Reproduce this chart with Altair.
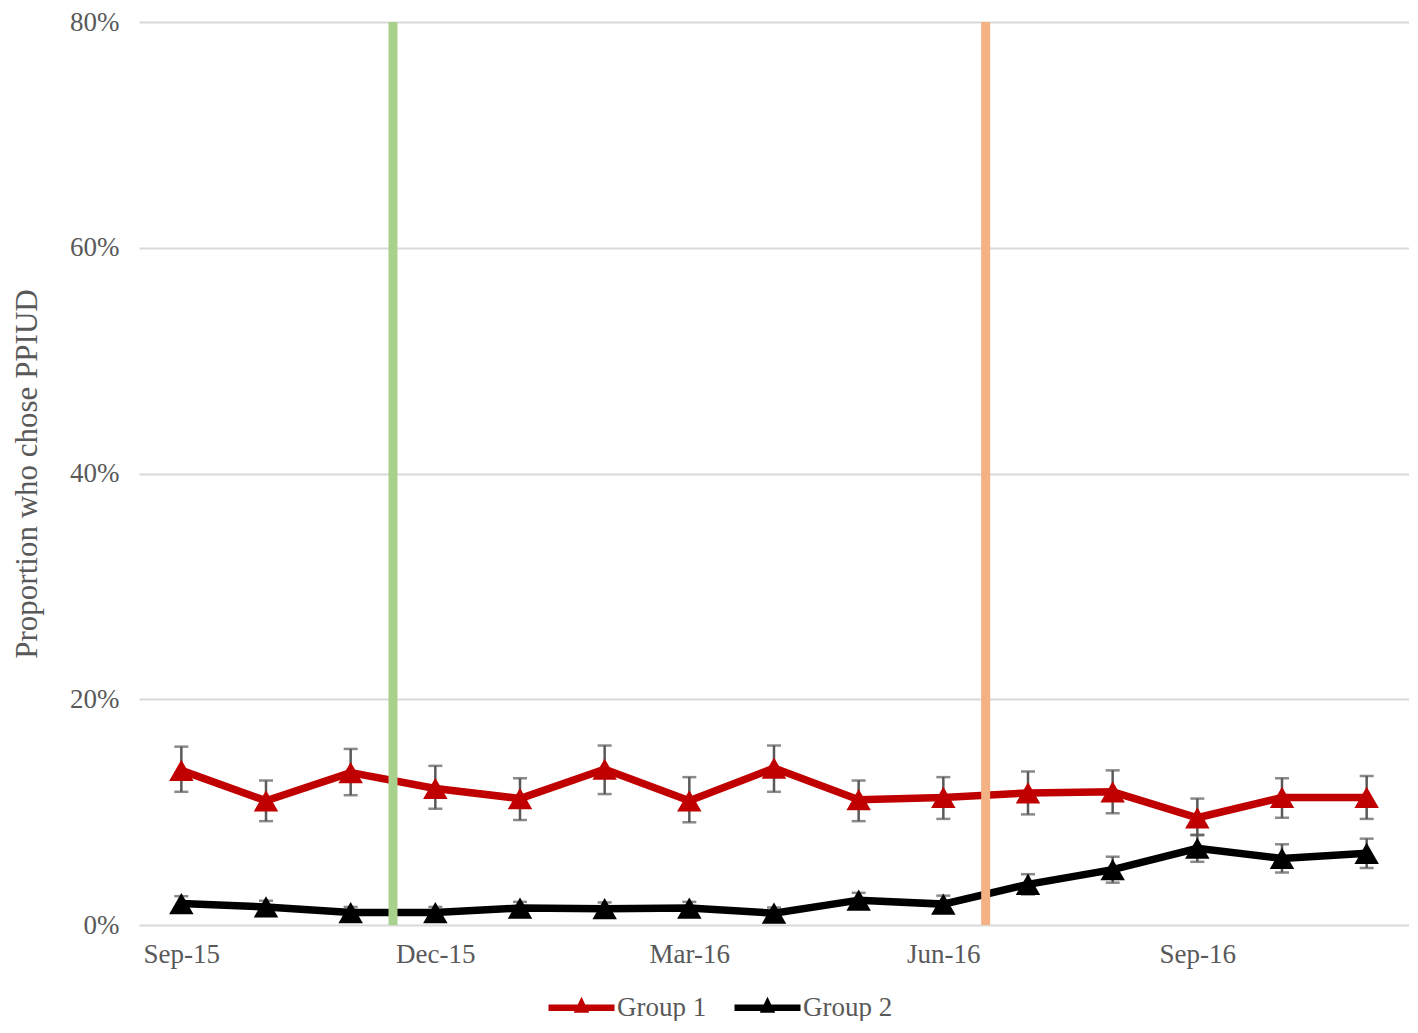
import altair as alt
import pandas as pd

months = ["Sep-15", "Oct-15", "Nov-15", "Dec-15", "Jan-16", "Feb-16", "Mar-16", "Apr-16",
          "May-16", "Jun-16", "Jul-16", "Aug-16", "Sep-16", "Oct-16", "Nov-16"]

g1 = [13.7, 11.0, 13.5, 12.1, 11.2, 13.8, 11.0, 13.9, 11.1, 11.3, 11.7, 11.8, 9.5, 11.3, 11.3]
g1_lo = [11.8, 9.2, 11.5, 10.3, 9.3, 11.6, 9.1, 11.8, 9.2, 9.4, 9.8, 9.9, 8.0, 9.5, 9.4]
g1_hi = [15.8, 12.8, 15.6, 14.1, 13.0, 15.9, 13.1, 15.9, 12.8, 13.1, 13.6, 13.7, 11.2, 13.0, 13.2]

g2 = [1.9, 1.6, 1.1, 1.1, 1.5, 1.45, 1.5, 1.05, 2.2, 1.85, 3.6, 4.9, 6.8, 5.9, 6.35]
g2_lo = [1.3, 1.05, 0.6, 0.6, 0.95, 0.9, 0.95, 0.55, 1.55, 1.15, 2.7, 3.75, 5.6, 4.65, 5.05]
g2_hi = [2.55, 2.15, 1.6, 1.6, 2.05, 2.0, 2.05, 1.55, 2.85, 2.6, 4.5, 6.05, 7.95, 7.15, 7.65]

groups = ["Group 1", "Group 2"]
colors = ["#C00000", "#000000"]

markers = [2.5, 9.5]
marker_colors = ["#A9D18E", "#F4B183"]

rows = []
for name, vals, lo, hi in [("Group 1", g1, g1_lo, g1_hi), ("Group 2", g2, g2_lo, g2_hi)]:
    for i, m in enumerate(months):
        rows.append({"idx": i, "month": m, "group": name,
                     "value": vals[i] / 100, "lo": lo[i] / 100, "hi": hi[i] / 100})
df = pd.DataFrame(rows)
mk = pd.DataFrame({"pos": markers, "col": marker_colors, "top": [0.8, 0.8], "bottom": [0, 0]})

label_arr = "[" + ",".join("'" + m + "'" for m in months) + "]"
FONT = "Liberation Serif"
GREY = "#595959"

xscale = alt.Scale(domain=[-0.5, 14.5], nice=False, zero=False)
xenc = alt.X("idx:Q", scale=xscale,
             axis=alt.Axis(values=[0, 3, 6, 9, 12], labelExpr=label_arr + "[datum.value]",
                           grid=False, domain=False, ticks=False, title=None,
                           labelFontSize=27, labelColor=GREY, labelFont=FONT, labelPadding=16))
yscale = alt.Scale(domain=[0, 0.8], nice=False)
yaxis = alt.Axis(values=[0, 0.2, 0.4, 0.6, 0.8], format=".0%", grid=True, gridColor="#D9D9D9",
                 gridWidth=2, domain=False, ticks=False, title="Proportion who chose PPIUD",
                 titleFontSize=31, titleFont=FONT, titleColor=GREY, titleFontWeight="normal",
                 labelFontSize=27, labelColor=GREY, labelFont=FONT, labelPadding=20, titlePadding=26)

cscale = alt.Scale(domain=groups, range=colors)

legend_path = ("M-3,-0.3 L-0.34,-0.3 L0,-1 L0.34,-0.3 L3,-0.3 L3,0.3 L0.63,0.3 "
               "L0.7,0.45 L-0.7,0.45 L-0.63,0.3 L-3,0.3 Z")
leg = alt.Legend(title=None, orient="none", direction="horizontal", legendX=429, legendY=972,
                 symbolType=legend_path, symbolSize=484, symbolStrokeWidth=0,
                 labelFontSize=27, labelFont=FONT, labelColor=GREY,
                 columnPadding=27, labelOffset=22)
cenc = alt.Color("group:N", scale=cscale, legend=leg)

base = alt.Chart(df)

err_rule = base.mark_rule(color=GREY, strokeWidth=2.5).encode(
    x=xenc, y=alt.Y("lo:Q", scale=yscale, axis=yaxis), y2="hi:Q")
err_top = base.mark_tick(color=GREY, orient="horizontal", size=14, thickness=2.5).encode(
    x=xenc, y=alt.Y("hi:Q", scale=yscale))
err_bot = base.mark_tick(color=GREY, orient="horizontal", size=14, thickness=2.5).encode(
    x=xenc, y=alt.Y("lo:Q", scale=yscale))

line = base.mark_line(strokeWidth=7.5).encode(
    x=xenc, y=alt.Y("value:Q", scale=yscale), color=cenc)

pts = base.mark_point(shape="triangle-up", filled=True, size=600, opacity=1).encode(
    x=xenc, y=alt.Y("value:Q", scale=yscale), color=cenc)

vlines = alt.Chart(mk).mark_rule(strokeWidth=9).encode(
    x=alt.X("pos:Q", scale=xscale),
    y=alt.Y("top:Q", scale=yscale), y2="bottom:Q",
    color=alt.Color("col:N", scale=None, legend=None))

chart = alt.layer(err_rule, err_top, err_bot, line, pts, vlines).properties(
    width=1270, height=903, padding={"left": 3, "top": 0, "right": 0, "bottom": 0}
).configure_view(stroke=None)

chart.save("out.html", embed_options={"renderer": "svg", "actions": False})
